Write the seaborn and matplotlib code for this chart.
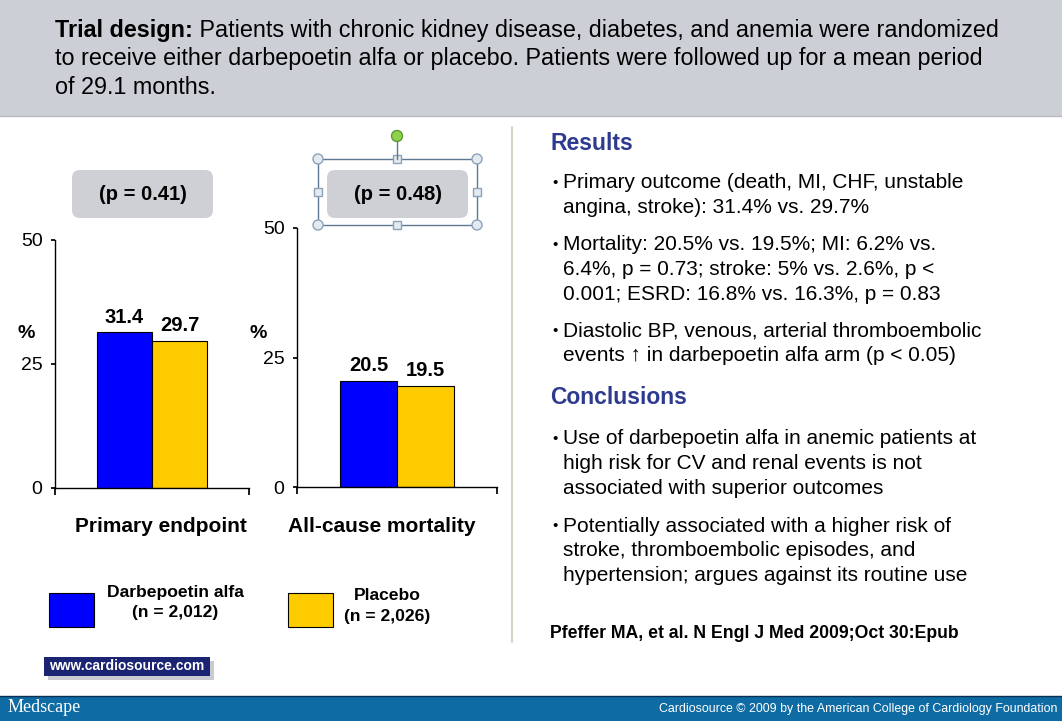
import pandas as pd
import seaborn as sns
import matplotlib.pyplot as plt
from matplotlib.patches import Rectangle, FancyBboxPatch, Circle

# values
endpoints = ["Primary endpoint", "All-cause mortality"]
groups = ["Darbepoetin alfa", "Placebo"]
group_n = ["(n = 2,012)", "(n = 2,026)"]
darbepoetin = [31.4, 20.5]
placebo = [29.7, 19.5]
p_values = ["(p = 0.41)", "(p = 0.48)"]
y_ticks = [0, 25, 50]
colors = ["#0000ff", "#ffcc00"]

header_lines = [
    "to receive either darbepoetin alfa or placebo. Patients were followed up for a mean period",
    "of 29.1 months.",
]
header_bold = "Trial design:"
header_first = " Patients with chronic kidney disease, diabetes, and anemia were randomized"

results = [
    ["Primary outcome (death, MI, CHF, unstable", "angina, stroke): 31.4% vs. 29.7%"],
    ["Mortality: 20.5% vs. 19.5%; MI: 6.2% vs.", "6.4%, p = 0.73; stroke: 5% vs. 2.6%, p <",
     "0.001; ESRD: 16.8% vs. 16.3%, p = 0.83"],
    ["Diastolic BP, venous, arterial thromboembolic", "events \u2191 in darbepoetin alfa arm (p < 0.05)"],
]
conclusions = [
    ["Use of darbepoetin alfa in anemic patients at", "high risk for CV and renal events is not",
     "associated with superior outcomes"],
    ["Potentially associated with a higher risk of", "stroke, thromboembolic episodes, and",
     "hypertension; argues against its routine use"],
]

df = pd.DataFrame({
    "endpoint": endpoints * 2,
    "group": [groups[0]] * 2 + [groups[1]] * 2,
    "value": darbepoetin + placebo,
})

sns.set_theme(style="white")
plt.rcParams["font.family"] = ["Liberation Sans", "DejaVu Sans"]
plt.rcParams["text.color"] = "black"
plt.rcParams["xtick.color"] = "black"
plt.rcParams["ytick.color"] = "black"

W, H = 1062, 721
fig = plt.figure(figsize=(W / 100, H / 100), dpi=100)
fig.patch.set_facecolor("white")

# background layer in pixel coordinates
bg = fig.add_axes([0, 0, 1, 1])
bg.set_xlim(0, W)
bg.set_ylim(H, 0)
bg.axis("off")

# header band
bg.add_patch(Rectangle((0, 0), W, 116, fc="#cdcfd6", ec="none"))
bg.plot([0, W], [116, 116], color="#b9bbc2", lw=1)

t1 = bg.text(55, 30, header_bold, fontsize=16, fontweight="bold", va="center")
t2 = bg.annotate(header_first, xy=(1, 0), xycoords=t1, va="bottom", fontsize=16)
t3 = bg.text(55, 58.5, header_lines[0], fontsize=16, va="center")
t4 = bg.text(55, 87, header_lines[1], fontsize=16, va="center")
fig.canvas.draw()
w = t3.get_window_extent().width
size = 16 * 928 / w
for t in (t1, t2, t3, t4):
    t.set_fontsize(size)

# divider
bg.plot([512, 512], [127, 642], color="#d8d4c2", lw=1.5)

# the two bar charts
boxes = [(55, 240, 249, 488), (297, 228, 497, 487)]
label_x = [161, 382]
pct_x = [26, 258]
pbox_x = [72, 327]
for i, (l, t, r, b) in enumerate(boxes):
    ax = fig.add_axes([l / W, 1 - b / H, (r - l) / W, (b - t) / H])
    sub = df[df["endpoint"] == endpoints[i]]
    sns.barplot(data=sub, x="endpoint", y="value", hue="group", hue_order=groups,
                palette=colors, saturation=1, edgecolor="black", linewidth=0.8,
                errorbar=None, legend=False, ax=ax)
    ax.set_facecolor("none")
    ax.set_xlim(-0.705, 0.705)
    ax.set_ylim(0, 50)
    for s in ["top", "right"]:
        ax.spines[s].set_visible(False)
    for s in ["left", "bottom"]:
        ax.spines[s].set_color("black")
        ax.spines[s].set_linewidth(1)
    ax.set_yticks(y_ticks)
    ax.set_xticks([-0.705, 0.705], labels=["", ""])
    ax.tick_params(axis="y", left=True, length=3, pad=6, labelsize=14, colors="black")
    ax.tick_params(axis="x", bottom=True, length=5, colors="black")
    ax.set_xlabel("")
    ax.set_ylabel("")
    for c in ax.containers:
        ax.bar_label(c, fmt="%.1f", padding=4, fontsize=14.5, fontweight="bold")

    bg.text(pct_x[i], 333, "%", fontsize=14, fontweight="bold", ha="center", va="center")
    bg.text(label_x[i], 527, endpoints[i], fontsize=15, fontweight="bold",
            ha="center", va="center")
    bg.add_patch(FancyBboxPatch((pbox_x[i], 170), 141, 48,
                                boxstyle="round,pad=0,rounding_size=8",
                                fc="#cfd0d5", ec="none"))
    bg.text(pbox_x[i] + 70.5, 194, p_values[i], fontsize=14.5, fontweight="bold",
            ha="center", va="center")

# selection handles around the second p-value box
sel = "#5f7892"
bg.add_patch(Rectangle((318, 159), 159, 66, fc="none", ec=sel, lw=1))
bg.plot([397, 397], [142, 159], color=sel, lw=1)
for cx, cy in [(318, 159), (477, 159), (318, 225), (477, 225)]:
    bg.add_patch(Circle((cx, cy), 5, fc="#e3eaf1", ec="#8ca2b8", lw=1))
for cx, cy in [(397, 159), (397, 225), (318, 192), (477, 192)]:
    bg.add_patch(Rectangle((cx - 4, cy - 4), 8, 8, fc="#e3eaf1", ec="#8ca2b8", lw=1))
bg.add_patch(Circle((397, 136), 5.5, fc="#8fd14f", ec="#5b9a2c", lw=1))

# legend
leg_sq = [49, 288]
leg_txt = [175, 387]
leg_y = [(592, 613), (596, 617)]
for i in range(2):
    bg.add_patch(Rectangle((leg_sq[i], 593), 45, 34, fc=colors[i], ec="black", lw=0.8))
    bg.text(leg_txt[i], leg_y[i][0], groups[i], fontsize=12.6, fontweight="bold",
            ha="center", va="center")
    bg.text(leg_txt[i], leg_y[i][1], group_n[i], fontsize=12.6, fontweight="bold",
            ha="center", va="center")

# right column text
navy = "#2e3a8f"
bg.text(550, 143, "Results", fontsize=16.5, fontweight="bold", color=navy, va="center")
bg.text(550, 397, "Conclusions", fontsize=16.5, fontweight="bold", color=navy, va="center")


def bullets(items, starts):
    for lines, y0 in zip(items, starts):
        bg.text(552, y0, "\u2022", fontsize=11, va="center", ha="left")
        for k, line in enumerate(lines):
            bg.text(563, y0 + k * 24.7, line, fontsize=15, va="center", ha="left")


bullets(results, [183, 245, 331])
bullets(conclusions, [439, 526])

bg.text(550, 634, "Pfeffer MA, et al. N Engl J Med 2009;Oct 30:Epub", fontsize=12.7,
        fontweight="bold", va="center")

# cardiosource tag
bg.add_patch(Rectangle((48, 661), 166, 19, fc="#a7a7b3", ec="none", alpha=0.6))
bg.add_patch(Rectangle((44, 657), 166, 19, fc="#1b2472", ec="none"))
bg.text(127, 666, "www.cardiosource.com", fontsize=10, fontweight="bold",
        color="white", ha="center", va="center")

# footer
bg.add_patch(Rectangle((0, 696), W, 25, fc="#0e6ba3", ec="none"))
bg.plot([0, W], [695.5, 695.5], color="#0b2f52", lw=1)
bg.text(8, 708, "Medscape", fontsize=13, color="white", va="center",
        family=["Liberation Serif", "DejaVu Serif"])
bg.text(1057, 709, "Cardiosource \u00a9 2009 by the American College of Cardiology Foundation",
        fontsize=8.9, color="white", ha="right", va="center")

fig.savefig("out.png", dpi=100)
